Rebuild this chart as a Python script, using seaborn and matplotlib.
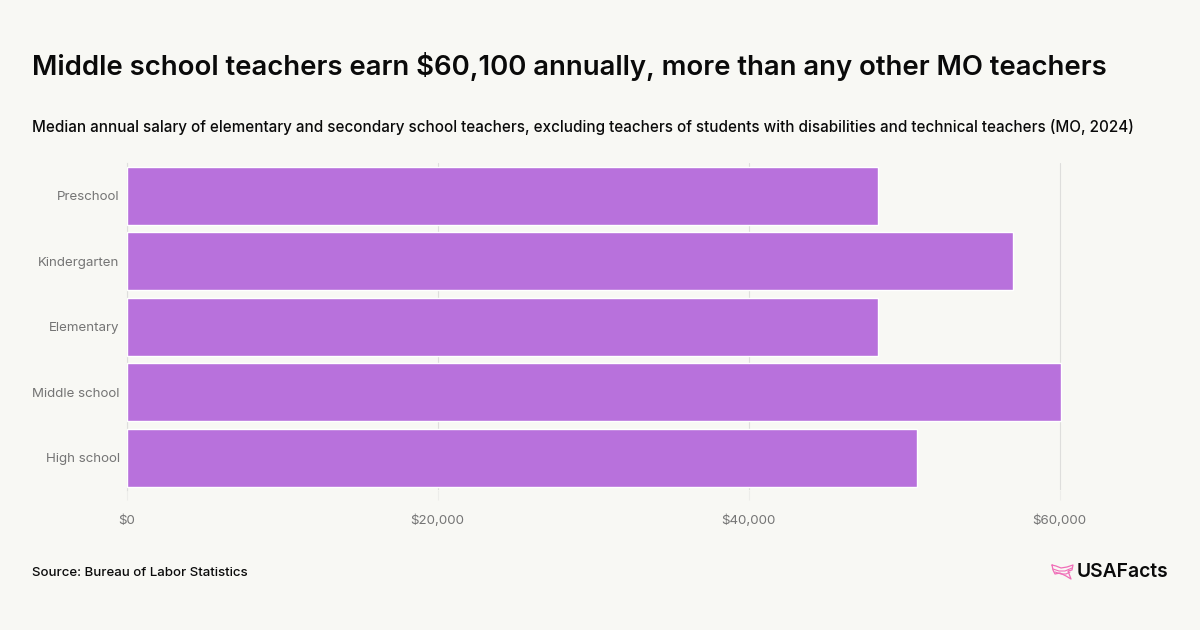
import matplotlib
matplotlib.use("Agg")
import matplotlib.pyplot as plt
from matplotlib.lines import Line2D
from matplotlib.ticker import FuncFormatter
import pandas as pd
import seaborn as sns

grades = ["Preschool", "Kindergarten", "Elementary", "Middle school", "High school"]
salaries = [48300, 57000, 48300, 60100, 50800]
x_ticks = [0, 20000, 40000, 60000]

TITLE = "Middle school teachers earn $60,100 annually, more than any other MO teachers"
SUBTITLE = ("Median annual salary of elementary and secondary school teachers, excluding "
            "teachers of students with disabilities and technical teachers (MO, 2024)")
SOURCE = "Source: Bureau of Labor Statistics"

BG = "#F8F8F4"
BAR = "#B871DC"
GRID = "#DEDEDC"
TICK_TEXT = "#757575"
W, H = 1200, 630

sns.set_theme(style="white")
plt.rcParams["font.family"] = ["Inter", "DejaVu Sans"]

fig = plt.figure(figsize=(W / 100, H / 100), dpi=100, facecolor=BG)
ax = fig.add_axes([126.6 / W, 1 - 490.3 / H, 1041.8 / W, (490.3 - 162.9) / H], facecolor=BG)

df = pd.DataFrame({"grade": grades, "salary": salaries})
sns.barplot(data=df, x="salary", y="grade", color=BAR, saturation=1, width=0.885,
            orient="h", ax=ax, zorder=3)

ax.set_xlim(0, 67000)
ax.set_xticks(x_ticks)
ax.xaxis.set_major_formatter(FuncFormatter(lambda v, _: f"${v:,.0f}"))
ax.set_xlabel("")
ax.set_ylabel("")
ax.grid(axis="x", color=GRID, linewidth=0.8)
ax.set_axisbelow(True)
for side in ("top", "right", "bottom"):
    ax.spines[side].set_visible(False)
ax.spines["left"].set_color(GRID)
ax.spines["left"].set_linewidth(0.8)
ax.spines["left"].set_zorder(2)
ax.tick_params(axis="x", length=7, width=0.8, color="#EDEDEA", pad=10.5,
               labelsize=9.6, labelcolor=TICK_TEXT, bottom=True)
ax.tick_params(axis="y", length=0, pad=5, labelsize=9.6, labelcolor=TICK_TEXT)

# Header and footer text, placed in pixel terms on the figure
def put(x, y, s, **kw):
    fig.text(x / W, 1 - y / H, s, va="center", **kw)

put(32, 66.5, TITLE, fontsize=19.8, fontweight="semibold", color="#0A0A0A")
put(32, 127.5, SUBTITLE, fontsize=10.95, fontweight="medium", color="#0A0A0A")
put(32, 572.5, SOURCE, fontsize=9.55, fontweight="medium", color="#0A0A0A")
put(1077, 572, "USAFacts", fontsize=13.9, fontweight="semibold", color="#0A0A0A")

# Small outline of the US beside the wordmark
outline_x = [1052, 1056, 1061, 1067, 1073, 1072, 1068, 1071, 1066, 1060, 1055, 1053, 1052]
outline_y = [565, 566, 568, 567, 565, 570, 571, 579, 576, 573, 574, 570, 565]
fig.add_artist(Line2D([x / W for x in outline_x], [1 - y / H for y in outline_y],
                      color="#F06EB8", linewidth=0.9, transform=fig.transFigure))
for xs, ys in (([1053, 1059, 1065, 1072], [569, 571, 571, 568]),
               ([1055, 1061, 1066, 1070], [572, 574, 574, 572])):
    fig.add_artist(Line2D([x / W for x in xs], [1 - y / H for y in ys],
                          color="#F06EB8", linewidth=0.8, transform=fig.transFigure))

fig.savefig("out.png", dpi=100, facecolor=BG)
